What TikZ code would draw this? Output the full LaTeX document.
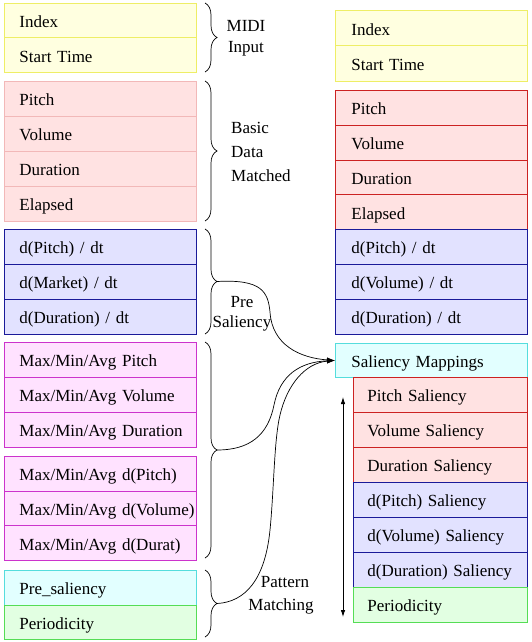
\documentclass[tikz,border=0pt]{standalone}
\usepackage{fontspec}
\setmainfont{Liberation Serif}
\usetikzlibrary{decorations.pathreplacing,arrows.meta}
\definecolor{yelF}{HTML}{FFFFE0}
\definecolor{yelD}{HTML}{EEEE66}
\definecolor{pinkF}{HTML}{FFE2E2}
\definecolor{pinkL}{HTML}{F2B8B8}
\definecolor{redD}{HTML}{CC2222}
\definecolor{bluF}{HTML}{E2E2FF}
\definecolor{bluD}{HTML}{1A1A99}
\definecolor{magF}{HTML}{FFE2FF}
\definecolor{magD}{HTML}{CC33CC}
\definecolor{cyaF}{HTML}{E2FFFF}
\definecolor{cyaD}{HTML}{55DDDD}
\definecolor{griF}{HTML}{E2FFE2}
\definecolor{griD}{HTML}{55DD55}
\begin{document}
\begin{tikzpicture}[x=1pt,y=-1pt,font=\fontsize{17}{21}\selectfont,
  cell/.style={rectangle,anchor=north west,inner ysep=0pt,text height=14pt,text depth=0pt,align=left,line width=0.9pt,
    execute at begin node={\hbox to 0pt\bgroup},execute at end node={\hss\egroup}},
  lcell/.style={cell,inner xsep=15pt,minimum width=192pt,text width=162pt,minimum height=35pt},
  rcell/.style={cell,inner xsep=16pt,minimum width=192pt,text width=160pt,minimum height=35pt},
  scell/.style={cell,inner xsep=14pt,minimum width=174pt,text width=146pt,minimum height=35pt},
  yel/.style={fill=yelF,draw=yelD},
  pnkl/.style={fill=pinkF,draw=pinkL},
  pnkr/.style={fill=pinkF,draw=redD},
  blu/.style={fill=bluF,draw=bluD},
  mag/.style={fill=magF,draw=magD},
  cya/.style={fill=cyaF,draw=cyaD},
  gri/.style={fill=griF,draw=griD},
  brc/.style={decorate,decoration={brace,amplitude=12pt,aspect=0.5},line width=0.7pt},
  lbl/.style={inner sep=0pt,align=center},
  conn/.style={line width=0.7pt,-{Latex[length=8pt,width=5pt]}}]
\useasboundingbox (0,0) rectangle (532,642);
% left column
\node[lcell,yel,minimum height=34.5pt] (lidx) at (4,3) {Index};
\node[lcell,yel,minimum height=34.5pt] (lst) at (4,37.5) {Start Time};
\node[lcell,pnkl] (lpit) at (4,81) {Pitch};
\node[lcell,pnkl] (lvol) at (4,116) {Volume};
\node[lcell,pnkl] (ldur) at (4,151) {Duration};
\node[lcell,pnkl] (lela) at (4,186) {Elapsed};
\node[lcell,blu] (ldp) at (4,229) {d(Pitch) / dt};
\node[lcell,blu] (ldm) at (4,264) {d(Market) / dt};
\node[lcell,blu] (ldd) at (4,299) {d(Duration) / dt};
\node[lcell,mag] (lm1) at (4,342) {Max/Min/Avg Pitch};
\node[lcell,mag] (lm2) at (4,377) {Max/Min/Avg Volume};
\node[lcell,mag] (lm3) at (4,412) {Max/Min/Avg Duration};
\node[lcell,mag,minimum height=34.7pt] (lm4) at (4,456) {Max/Min/Avg d(Pitch)};
\node[lcell,mag,minimum height=34.7pt] (lm5) at (4,490.7) {Max/Min/Avg d(Volume)};
\node[lcell,mag,minimum height=34.7pt] (lm6) at (4,525.4) {Max/Min/Avg d(Durat)};
\node[lcell,cya,minimum height=34.5pt] (lpre) at (4,570) {Pre\_saliency};
\node[lcell,gri,minimum height=34.5pt] (lper) at (4,604.5) {Periodicity};
% right column
\node[rcell,yel,minimum height=35.5pt] (ridx) at (335,10) {Index};
\node[rcell,yel,minimum height=35.5pt] (rst) at (335,45.5) {Start Time};
\node[rcell,pnkr,minimum height=34.75pt] (rpit) at (335,90) {Pitch};
\node[rcell,pnkr,minimum height=34.75pt] (rvol) at (335,124.75) {Volume};
\node[rcell,pnkr,minimum height=34.75pt] (rdur) at (335,159.5) {Duration};
\node[rcell,pnkr,minimum height=34.75pt] (rela) at (335,194.25) {Elapsed};
\node[rcell,blu] (rdp) at (335,229) {d(Pitch) / dt};
\node[rcell,blu] (rdv) at (335,264) {d(Volume) / dt};
\node[rcell,blu] (rdd) at (335,299) {d(Duration) / dt};
\node[rcell,cya,minimum height=34pt] (sal) at (335,343) {Saliency Mappings};
\node[scell,pnkr] (sp) at (353,377) {Pitch Saliency};
\node[scell,pnkr] (sv) at (353,412) {Volume Saliency};
\node[scell,pnkr] (sd) at (353,447) {Duration Saliency};
\node[scell,blu] (sdp) at (353,482) {d(Pitch) Saliency};
\node[scell,blu] (sdv) at (353,517) {d(Volume) Saliency};
\node[scell,blu] (sdd) at (353,552) {d(Duration) Saliency};
\node[scell,gri] (sper) at (353,587) {Periodicity};
% braces
\draw[brc] (205,3) -- (205,72);
\draw[brc] (205,81) -- (205,221);
\draw[brc] (205,229) -- (205,334);
\draw[brc] (205,342) -- (205,558);
\draw[brc] (205,570) -- (205,637);
\coordinate (preTip) at (217,281.5);
\coordinate (maxTip) at (217,450);
\coordinate (patTip) at (217,603.5);
% labels
\node[lbl,font=\fontsize{17}{21}\selectfont] (midi) at (246,38) {MIDI\\Input};
\node[lbl,align=left,anchor=west,font=\fontsize{17}{24}\selectfont] (basic) at (231,152) {Basic\\Data\\Matched};
\node[lbl,font=\fontsize{17}{20}\selectfont] (presal) at (242,314) {Pre\\Saliency};
\node[lbl,font=\fontsize{17}{23}\selectfont] (patmat) at (281,595) {\hspace*{8pt}Pattern\\Matching};
% connectors
\draw[conn] (preTip) .. controls (262,279) and (268,292) .. (270,312) .. controls (272,345) and (300,358) .. (sal.west);
\draw[conn] (maxTip) .. controls (250,450) and (268,435) .. (274,405) .. controls (280,375) and (300,362) .. (sal.west);
\draw[conn] (patTip) .. controls (245,602) and (265,580) .. (270,530) .. controls (274,490) and (274,440) .. (280,415) .. controls (287,385) and (305,363) .. (sal.west);
% double arrow
\coordinate (dTop) at (343,397);
\coordinate (dBot) at (343,617);
\draw[line width=0.8pt,{Latex[length=7pt,width=4.5pt]}-{Latex[length=7pt,width=4.5pt]}] (dTop) -- (dBot);
\end{tikzpicture}
\end{document}
